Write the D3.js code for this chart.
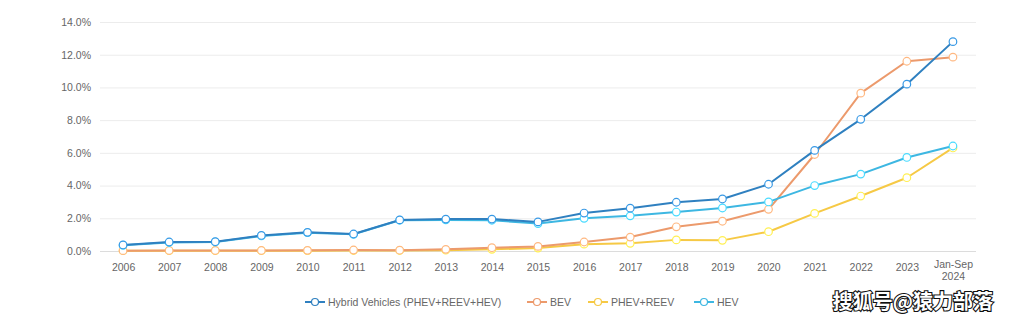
<!DOCTYPE html>
<html>
<head>
<meta charset="utf-8">
<script src="https://cdn.jsdelivr.net/npm/d3@7"></script>
<style>
  html, body { margin: 0; padding: 0; background: #fff; }
  svg { display: block; }
</style>
</head>
<body>
<svg id="chart" width="1017" height="326"></svg>
<script>
// Categories (x axis)
const years = ["2006","2007","2008","2009","2010","2011","2012","2013","2014","2015",
               "2016","2017","2018","2019","2020","2021","2022","2023","Jan-Sep 2024"];

// Market share series, in percent
const hybridValues = [0.37,0.55,0.57,0.95,1.14,1.04,1.90,1.95,1.95,1.78,2.32,2.62,2.98,3.18,4.08,6.15,8.05,10.2,12.8];
const bevValues    = [0.02,0.03,0.03,0.03,0.04,0.06,0.05,0.10,0.20,0.28,0.55,0.85,1.48,1.82,2.55,5.90,9.65,11.6,11.85];
const phevValues   = [0.02,0.02,0.02,0.02,0.02,0.03,0.03,0.05,0.10,0.18,0.42,0.47,0.68,0.65,1.18,2.30,3.36,4.48,6.30];
const hevValues    = [0.35,0.52,0.55,0.92,1.12,1.02,1.88,1.90,1.88,1.68,2.00,2.15,2.38,2.63,3.00,4.00,4.70,5.72,6.42];

// Y tick labels
const yTicks = [0, 2, 4, 6, 8, 10, 12, 14];

const seriesNames  = ["Hybrid Vehicles (PHEV+REEV+HEV)", "BEV", "PHEV+REEV", "HEV"];
const seriesColors = ["#2f80c0", "#ec9a6c", "#f6c945", "#3db7e2"];
const seriesValues = [hybridValues, bevValues, phevValues, hevValues];

const svg = d3.select("#chart");

const x = d3.scalePoint().domain(years).range([100, 976]).padding(0.5);
const y = d3.scaleLinear().domain([0, 14]).range([251, 22]);

// Horizontal grid lines
svg.append("g")
  .selectAll("line")
  .data(yTicks)
  .join("line")
  .attr("x1", 100).attr("x2", 976)
  .attr("y1", d => y(d) + 0.5).attr("y2", d => y(d) + 0.5)
  .attr("stroke", d => d === 0 ? "#dcdcdc" : "#ececec")
  .attr("stroke-width", 1);

// Y axis labels
const yAxis = d3.axisLeft(y).tickValues(yTicks).tickFormat(d => d.toFixed(1) + "%").tickSize(0).tickPadding(0);
const gy = svg.append("g").attr("transform", "translate(91,0)").call(yAxis);
gy.select(".domain").remove();
gy.selectAll("text")
  .attr("fill", "#666")
  .style("font-family", "Liberation Sans, Arial, sans-serif")
  .style("font-size", "10.5px");

// X axis labels
const xAxis = d3.axisBottom(x).tickSize(0).tickPadding(0);
const gx = svg.append("g").attr("transform", "translate(0,264)").call(xAxis);
gx.select(".domain").remove();
gx.selectAll("text")
  .attr("fill", "#666")
  .style("font-family", "Liberation Sans, Arial, sans-serif")
  .style("font-size", "10.5px")
  .each(function(d) {
    const t = d3.select(this);
    const parts = d.split(" ");
    if (parts.length > 1) {
      t.text(null);
      t.append("tspan").attr("x", 0).attr("dy", "0.35em").text(parts[0]);
      t.append("tspan").attr("x", 0).attr("dy", "1.15em").text(parts[1]);
    }
  });

// Lines and markers (draw order: yellow, orange, light blue, dark blue on top)
const line = d3.line().x((d, i) => x(years[i])).y(d => y(d));
const order = [2, 1, 3, 0];
order.forEach(k => {
  const g = svg.append("g");
  g.append("path")
    .datum(seriesValues[k])
    .attr("d", line)
    .attr("fill", "none")
    .attr("stroke", seriesColors[k])
    .attr("stroke-width", 2)
    .attr("stroke-linejoin", "round");
  g.selectAll("circle")
    .data(seriesValues[k])
    .join("circle")
    .attr("cx", (d, i) => x(years[i]))
    .attr("cy", d => y(d))
    .attr("r", 3.8)
    .attr("fill", "#fff")
    .attr("stroke", d3.color(seriesColors[k]).brighter(0.5))
    .attr("stroke-width", 1.2);
});

// Legend
const legendX = [305, 527, 588, 694];
const legend = svg.append("g").attr("transform", "translate(0,302)");
seriesNames.forEach((name, k) => {
  const g = legend.append("g").attr("transform", `translate(${legendX[k]},0)`);
  g.append("line").attr("x1", 0).attr("x2", 20).attr("y1", 0).attr("y2", 0)
    .attr("stroke", seriesColors[k]).attr("stroke-width", 2);
  g.append("circle").attr("cx", 10).attr("cy", 0).attr("r", 3.5)
    .attr("fill", "#fff").attr("stroke", seriesColors[k]).attr("stroke-width", 1.2);
  g.append("text").attr("x", 23).attr("y", 0).attr("dy", "0.35em")
    .attr("fill", "#666")
    .style("font-family", "Liberation Sans, Arial, sans-serif")
    .style("font-size", "10.5px")
    .text(name);
});

// Source mark
svg.append("text")
  .attr("x", 993).attr("y", 309)
  .attr("text-anchor", "end")
  .style("font-family", "Noto Sans CJK SC, sans-serif")
  .style("font-weight", "bold")
  .style("font-size", "20px")
  .attr("fill", "#fff")
  .attr("stroke", "#111")
  .attr("stroke-width", 2.2)
  .attr("paint-order", "stroke")
  .text("搜狐号@猿力部落");
</script>
</body>
</html>
